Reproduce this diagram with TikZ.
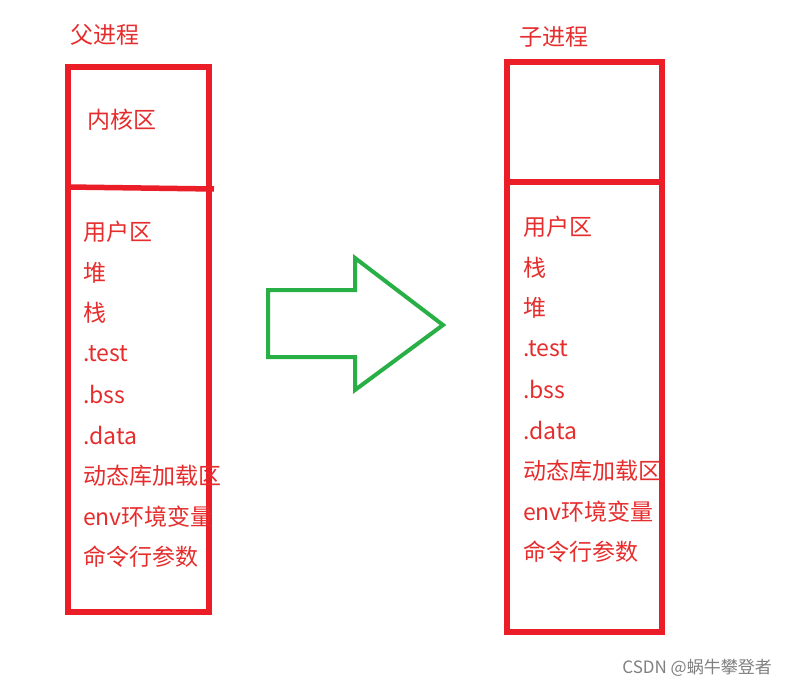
\documentclass[tikz,border=0pt]{standalone}
\usepackage{fontspec}
\setmainfont{Noto Sans CJK SC}
\definecolor{bx}{RGB}{235,30,40}
\definecolor{tx}{RGB}{230,45,45}
\definecolor{gr}{RGB}{40,175,70}
\begin{document}
\begin{tikzpicture}[x=1pt,y=-1pt,
  box/.style={draw=bx,line width=5.5pt},
  lbl/.style={anchor=west,text=tx,font=\fontsize{23}{23}\selectfont,inner sep=0pt},
  wm/.style={anchor=east,text=gray,font=\fontsize{17}{17}\selectfont,inner sep=0pt}]
\useasboundingbox (0,0) rectangle (787,688);
\fill[white] (0,0) rectangle (787,688);
% left
\draw[box] (68,67) rectangle (209,612);
\draw[box] (68,187) -- (214,189);
\node[lbl] (lt) at (70,35) {父进程};
\node[lbl] (lk) at (87,120) {内核区};
\foreach \t [count=\i] in {用户区,堆,栈,.test,.bss,.data,动态库加载区,env环境变量,命令行参数}
  \node[lbl] (l\i) at (83,{232+40.6*(\i-1)}) {\t};
% right
\draw[box] (507,62) rectangle (662,632);
\draw[box] (507,182) -- (662,182);
\node[lbl] (rt) at (519,37) {子进程};
\foreach \t [count=\i] in {用户区,栈,堆,.test,.bss,.data,动态库加载区,env环境变量,命令行参数}
  \node[lbl] (r\i) at (523,{227+40.6*(\i-1)}) {\t};
% arrow
\draw[gr,line width=4pt,line join=miter] (268,290) -- (355,290) -- (355,258) -- (443,325) -- (355,390) -- (355,357) -- (268,357) -- cycle;
\node[wm] (w) at (772,668) {CSDN @蜗牛攀登者};
\end{tikzpicture}
\end{document}
